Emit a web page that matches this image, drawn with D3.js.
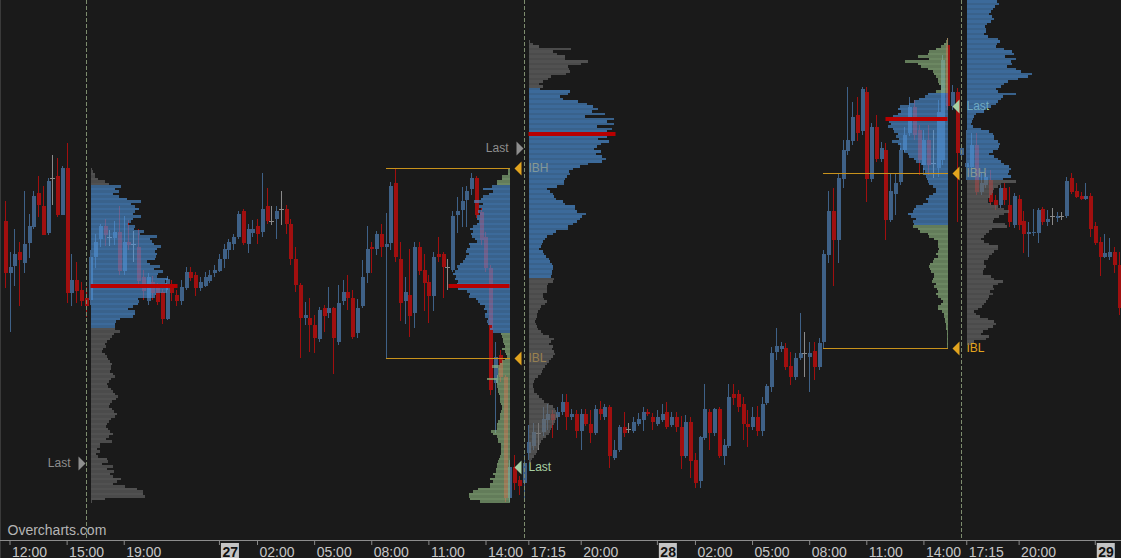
<!DOCTYPE html>
<html>
<head>
<meta charset="utf-8">
<script src="https://cdn.jsdelivr.net/npm/d3@7"></script>
<style>
  html, body { margin: 0; padding: 0; background: #1a1a1a; }
  svg { display: block; }
</style>
</head>
<body>
<svg id="chart" width="1121" height="558"></svg>
<script>

// 15 minute bars: [open, high, low, close]
const bars = [
  [4319,4339,4252,4267],[4267,4288,4208,4273],[4274,4311,4254,4286],[4288,4298,4234,4280],[4277,4349,4267,4296],
  [4297,4326,4282,4314],[4313,4349,4311,4344],[4347,4364,4323,4335],[4334,4354,4305,4305],[4307,4362,4305,4359],
  [4362,4385,4335,4362],[4364,4382,4323,4325],[4325,4374,4325,4372],[4372,4397,4237,4247],[4247,4286,4234,4260],
  [4260,4278,4237,4249],[4250,4258,4234,4239],[4242,4253,4223,4234],
  // day 26 17:15 session
  [4240,4290,4235,4283],[4283,4306,4272,4298],
  [4301,4316,4293,4314],[4314,4321,4294,4305],[4303,4310,4294,4303],[4302,4319,4295,4308],[4308,4334,4265,4269],
  [4269,4324,4265,4298],[4298,4320,4290,4295],[4296,4309,4278,4296],[4293,4311,4253,4259],[4263,4270,4240,4249],
  [4239,4267,4235,4263],[4258,4264,4240,4247],[4252,4257,4235,4238],[4248,4251,4216,4221],[4221,4264,4220,4261],
  [4255,4260,4239,4247],[4245,4250,4234,4239],[4239,4260,4235,4253],[4252,4273,4250,4268],[4268,4273,4259,4262],
  [4265,4268,4244,4252],[4252,4263,4249,4258],[4254,4268,4253,4263],[4259,4270,4257,4265],[4267,4275,4263,4270],
  [4269,4286,4268,4281],[4281,4296,4272,4291],[4290,4301,4281,4298],[4296,4306,4290,4303],[4303,4329,4301,4326],
  [4329,4331,4295,4297],[4296,4316,4287,4311],[4307,4320,4303,4311],[4314,4321,4296,4306],[4308,4367,4303,4331],
  [4334,4352,4316,4319],[4319,4334,4315,4319],[4321,4334,4301,4329],[4331,4349,4315,4331],[4331,4335,4306,4316],
  [4316,4321,4275,4281],[4281,4293,4248,4255],[4255,4257,4182,4222],[4222,4238,4215,4225],[4222,4242,4188,4215],
  [4215,4225,4187,4202],[4201,4233,4198,4230],[4232,4235,4208,4224],[4227,4253,4222,4232],[4232,4233,4166,4202],
  [4198,4255,4195,4237],[4239,4260,4235,4248],[4248,4265,4230,4242],[4242,4250,4201,4203],[4207,4241,4202,4232],
  [4234,4280,4232,4263],[4267,4314,4257,4291],[4293,4298,4267,4291],[4291,4309,4285,4306],[4306,4316,4283,4293],
  [4293,4327,4182,4296],[4297,4358,4290,4354],[4357,4372,4278,4283],[4281,4298,4219,4237],[4239,4263,4216,4248],
  [4245,4291,4203,4224],[4227,4298,4212,4293],[4293,4298,4265,4269],[4270,4286,4229,4257],[4258,4265,4217,4244],
  [4244,4288,4229,4283],[4286,4303,4278,4283],[4286,4288,4242,4273],[4273,4281,4250,4273],[4270,4329,4268,4324],
  [4325,4343,4307,4329],[4330,4353,4313,4339],[4340,4354,4313,4349],[4351,4367,4345,4362],[4362,4364,4322,4325],
  [4328,4332,4295,4300],[4303,4308,4268,4272],[4272,4275,4145,4150],[4157,4198,4107,4183],[4185,4190,4158,4163],
  [4163,4165,4038,4042],[4042,4080,4038,4073],[4073,4085,4050,4057],[4060,4064,4045,4054],[4057,4085,4038,4077],
  // day 27 17:15 session
  [4087,4115,4080,4098],[4094,4117,4090,4108],[4107,4117,4090,4107],[4108,4133,4104,4121],[4120,4136,4110,4126],
  [4126,4130,4102,4120],[4123,4133,4110,4128],[4128,4146,4125,4138],[4138,4146,4110,4123],[4123,4131,4120,4126],
  [4126,4130,4102,4109],[4109,4131,4090,4126],[4126,4131,4114,4116],[4116,4130,4097,4107],[4107,4135,4105,4131],
  [4131,4139,4120,4126],[4123,4136,4120,4133],[4133,4135,4072,4084],[4082,4100,4080,4090],[4090,4115,4088,4113],
  [4113,4128,4103,4107],[4111,4117,4107,4111],[4109,4123,4107,4118],[4116,4127,4114,4121],[4120,4133,4109,4128],
  [4128,4131,4124,4126],[4123,4127,4110,4118],[4116,4130,4114,4123],[4120,4136,4118,4126],[4128,4138,4111,4113],
  [4115,4128,4113,4123],[4123,4128,4108,4113],[4113,4124,4071,4084],[4084,4125,4082,4118],[4118,4123,4062,4079],
  [4080,4087,4052,4057],[4059,4104,4052,4103],[4102,4156,4100,4131],[4128,4131,4090,4107],[4107,4132,4104,4131],
  [4131,4133,4082,4084],[4084,4101,4075,4095],[4094,4156,4092,4143],[4146,4156,4135,4142],[4146,4150,4128,4133],
  [4136,4143,4100,4116],[4116,4130,4093,4113],[4113,4133,4110,4123],[4123,4134,4104,4109],[4109,4143,4104,4136],
  [4137,4156,4135,4154],[4153,4193,4148,4187],[4188,4212,4180,4194],[4191,4198,4188,4194],[4192,4197,4170,4173],
  [4174,4188,4155,4163],[4163,4187,4160,4182],[4182,4227,4180,4187],[4187,4208,4163,4187],[4183,4198,4148,4187],
  [4189,4198,4160,4173],[4173,4202,4170,4197],[4198,4290,4192,4286],[4285,4349,4277,4329],[4329,4352,4254,4300],
  [4300,4367,4277,4362],[4361,4400,4352,4390],[4389,4453,4385,4400],[4399,4438,4395,4423],[4425,4443,4399,4407],
  [4409,4453,4405,4451],[4448,4453,4338,4361],[4361,4417,4358,4413],[4413,4425,4378,4381],[4381,4398,4378,4392],
  [4390,4397,4300,4320],[4320,4367,4318,4349],[4346,4367,4325,4357],[4358,4397,4355,4390],[4390,4413,4388,4405],
  [4407,4443,4404,4433],[4433,4440,4400,4405],[4410,4415,4365,4380],[4375,4410,4365,4400],[4400,4415,4365,4375],
  [4377,4410,4362,4377],[4372,4440,4363,4428],[4380,4485,4375,4480],[4495,4502,4430,4434],[4434,4455,4430,4448],
  [4448,4452,4318,4387],[4385,4395,4380,4392],
  // day 28 17:15 session
  [4373,4410,4360,4377],[4373,4407,4370,4395],[4395,4407,4345,4348],
  [4348,4367,4345,4357],[4355,4367,4352,4363],[4360,4370,4335,4338],[4340,4345,4330,4335],[4335,4355,4332,4352],
  [4352,4357,4335,4340],[4335,4353,4313,4318],[4315,4347,4312,4344],[4341,4345,4310,4315],[4319,4329,4287,4306],
  [4306,4318,4283,4308],[4307,4331,4304,4308],[4307,4332,4297,4330],[4331,4333,4315,4318],[4318,4330,4314,4321],
  [4324,4332,4315,4324],[4322,4328,4318,4324],[4324,4328,4320,4324],[4324,4363,4322,4359],[4362,4367,4346,4348],
  [4349,4357,4342,4343],[4344,4348,4340,4341],[4341,4357,4340,4344],[4344,4347,4303,4311],[4314,4318,4295,4297],
  [4298,4303,4264,4283],[4283,4306,4282,4287],[4283,4302,4280,4288],[4288,4293,4267,4275],[4275,4288,4225,4232]
];

// session boundaries (bar indexes)
const sessionFirst = [0, 18, 110, 202];
const sessionLast = [17, 109, 201, 234];
const ibStart = [null, 80, 172, null];   // initial balance = 4 bars from 08:45
const rthEnd = [null, 106, 198, null];   // 15:15 bar
const ibBars = 4;

// time axis
const tickBars = [1, 13, 25, 45, 53, 65, 77, 89, 101, 110, 121, 137, 145, 157, 169, 181, 193, 202, 213, 229];
const tickLabels = ["12:00","15:00","19:00","27","02:00","05:00","08:00","11:00","14:00","17:15",
                    "20:00","28","02:00","05:00","08:00","11:00","14:00","17:15","20:00","29"];

// volume profiles, one row every 2.5 points, listed from the top price down
const rowStep = 2.5;

const volS1Session = [
  1,2,4,4,7,14,18,
  30,24,28,22,28,36,50,40,44,48,44,42,50,42,40,37,44,43,53,49,66,59,61,63,70,66,64,66,65,64,56,59,69,63,
  72,67,66,77,74,76,86,77,76,65,64,47,48,47,42,37,44,44,42,29,25,24,24,
  24,29,23,21,19,16,14,15,12,11,14,16,17,19,21,20,20,
  19,22,24,20,18,16,17,20,22,24,27,25,21,19,18,21,23,26,24,20,18,16,15,17,19,22,18,15,
  21,9,9,6,9,5,7,16,17,11,22,16,23,19,22,30,26,22,34,46,52,52,54,14,1
];
const volS1Rth = [
  2,2,2,8,8,13,13,
  18,27,17,21,27,29,36,27,31,28,32,30,33,33,31,33,37,40,37,39,38,35,33,41,40,43,44,41,44,45,
  47,50,53,52,55,57,54,55,52,53,60,52,43,40,41,34,32,30,25,26,23,25,25,22,23,22,18,20,17,
  9,8,7,7,6,5,8,5,4,3,5,8,10,18,12,12,12,13,23,14,13,13,12,12,11,10,10,10,9,8,
  8,9,10,10,10,12,13,13,13,19,17,13,12,12,9,9,9,9,9,10,11,12,13,13,14,14,17,15,20,17,
  20,20,32,37,41,41,40,30
];
const volS2Session = [
  1,4,10,42,24,28,36,36,59,52,39,40,41,37,22,19,14,10,14,
  11,41,39,31,34,49,58,64,69,63,76,56,85,78,85,68,83,78,86,78,69,80,72,68,65,72,67,73,77,73,
  59,51,44,40,41,38,36,35,35,28,18,21,24,25,27,34,36,46,46,48,57,53,51,48,44,39,39,27,24,18,
  16,14,13,12,10,14,15,17,20,21,23,24,24,23,23,22,
  25,24,19,18,18,18,14,14,15,18,16,12,11,9,8,8,7,6,7,8,9,12,14,20,25,22,20,24,23,25,
  26,24,22,20,18,16,14,13,12,9,6,5,4,4,5,5,8,10,13,15,
  20,24,26,27,28,29,27,26,25,23,22,21,20,17,14,12,11,10,9,8,7,5,3,2
];
const volS2Rth = [
  1,2,4,7,12,19,20,30,19,43,30,27,20,15,14,12,10,10,9,7,7,12,
  20,23,29,34,39,48,50,47,50,55,61,59,57,60,55,54,50,52,49,56,50,47,48,44,40,39,34,32,27,24,
  25,23,24,22,21,20,19,15,12,12,15,19,22,20,25,32,34,35,40,37,32,35,34,
  35,30,28,20,19,14,10,10,10,9,10,12,10,14,15,18,19,18,17,14,14,15,16,12,14,11,10,12,10,7,
  5,7,10,10,6,4,4,3,3,2,2,2,1,1,1,1,1,1,1
];
const volS3Session = [
  30,32,28,26,24,22,25,27,24,20,18,19,
  19,17,21,31,33,30,29,37,45,47,38,49,44,45,40,49,54,65,61,51,41,37,34,29,31,49,36,34,31,29,
  24,19,17,9,7,6,5,4,6,14,22,26,27,27,31,33,32,31,26,22,27,31,34,37,42,44,42,41,44,36,
  49,34,31,27,26,25,23,21,21,24,31,37,42,37,32,27,26,38,40,25,22,19,17,14,17,22,31,31,27,25,
  22,21,17,17,19,17,16,16,24,27,36,31,26,27,23,26,22,21,19,17,15,11,7,9,13,21,27,29,26,21,
  16,14,22,19,7,4
];

// top price, value area high / low of each profile
const profileTop = [4372.5, 4372.5, 4500, 4502.5, 4540];
const profileVAH = [4355, 4355, 4452.5, 4447.5, 4545];
const profileVAL = [4212.5, 4207.5, 4262.5, 4315, 4360];


class ProfileChart {

  constructor(_config) {
    this.config = {
      parentElement: _config.parentElement,
      width: 1121,
      height: 558,
      plotBottom: 540
    }
    this.initVis();
  }

  initVis() {
    let vis = this;

    vis.svg = d3.select(vis.config.parentElement);

    vis.xScale = d3.scaleLinear()
      .domain([0, bars.length - 1])
      .range([4.74, 4.74 + (bars.length - 1) * 4.76]);

    vis.yScale = d3.scaleLinear()
      .domain([4000, 4540])
      .range([vis.config.plotBottom, 0]);

    // profile widths, one point of volume per pixel
    vis.volScale = d3.scaleLinear().domain([0, 100]).range([0, 100]);

    vis.colors = {
      up: "#3f6187", down: "#a10f0f", flat: "#8a8a8a",
      va: "#4e92d9", outSession: "#6d6d6d", outRth: "#95be86",
      poc: "#b80000", ib: "#c8921c", ibMark: "#e2a41e",
      last: "#a6d0a3", lastPrev: "#8e8e8e"
    };

    vis.profiles = [
      { vol: volS1Session, kind: "session", session: 1 },
      { vol: volS1Rth, kind: "rth", session: 1 },
      { vol: volS2Session, kind: "session", session: 2 },
      { vol: volS2Rth, kind: "rth", session: 2 },
      { vol: volS3Session, kind: "session", session: 3 }
    ].map((p, k) => Object.assign(p, { top: profileTop[k], vah: profileVAH[k], val: profileVAL[k] }));

    vis.svg.append("rect")
      .attr("width", vis.config.width)
      .attr("height", vis.config.height)
      .attr("fill", "#1a1a1a");

    vis.candleG = vis.svg.append("g");
    vis.textG = vis.svg.append("g");
    vis.profileG = vis.svg.append("g").attr("shape-rendering", "crispEdges");
    vis.lineG = vis.svg.append("g");
    vis.axisG = vis.svg.append("g").attr("transform", `translate(0,${vis.config.plotBottom})`);

    vis.renderVis();
  }

  renderVis() {
    let vis = this;
    const x = vis.xScale, y = vis.yScale;

    //candles
    const candles = bars.map((b, i) => ({ i: i, o: b[0], h: b[1], l: b[2], c: b[3] }));
    const color = d => d.c > d.o ? vis.colors.up : (d.c < d.o ? vis.colors.down : vis.colors.flat);

    vis.candleG.selectAll(".wick")
      .data(candles)
      .join("line")
        .attr("class", "wick")
        .attr("x1", d => Math.round(x(d.i)) + 0.5)
        .attr("x2", d => Math.round(x(d.i)) + 0.5)
        .attr("y1", d => y(d.h))
        .attr("y2", d => y(d.l))
        .attr("stroke", color)
        .attr("stroke-width", 1);

    vis.candleG.selectAll(".body")
      .data(candles)
      .join("rect")
        .attr("class", "body")
        .attr("shape-rendering", "crispEdges")
        .attr("x", d => Math.round(x(d.i)) - (d.o === d.c ? 2 : 1.5))
        .attr("width", d => d.o === d.c ? 5 : 4)
        .attr("y", d => y(Math.max(d.o, d.c)))
        .attr("height", d => Math.max(1, Math.abs(y(d.o) - y(d.c))))
        .attr("fill", color);

    // where each profile sits
    vis.profiles.forEach(p => {
      if (p.kind === "session") {
        p.base = Math.round(x(sessionFirst[p.session])) + 0.5;
      } else {
        p.edge = Math.round(x(rthEnd[p.session])) + 0.5;
      }
      p.rows = p.vol.map((v, i) => ({
        v: v, i: i,
        hi: p.top - i * rowStep,
        lo: p.top - (i + 1) * rowStep
      }));
    });

    //labels sit under the profiles, so the profiles tint them
    const marks = [];
    [1, 2].forEach(s => {
      const ib = bars.slice(ibStart[s], ibStart[s] + ibBars);
      const edge = Math.round(x(rthEnd[s])) + 0.5;
      const base = Math.round(x(sessionFirst[s])) + 0.5;
      marks.push({ kind: "ibh", price: d3.max(ib, b => b[1]), edge: edge, from: x(ibStart[s]) });
      marks.push({ kind: "ibl", price: d3.min(ib, b => b[2]), edge: edge, from: x(ibStart[s]) });
      marks.push({ kind: "last", price: bars[rthEnd[s]][3], edge: edge });
      marks.push({ kind: "prev", price: bars[sessionLast[s]][3], edge: base });
    });

    const labelText = { ibh: "IBH", ibl: "IBL", last: "Last", prev: "Last" };
    const labelFill = { ibh: "#e2a41e", ibl: "#e2a41e", last: vis.colors.last, prev: vis.colors.lastPrev };

    vis.textG.selectAll("text")
      .data(marks)
      .join("text")
        .attr("x", d => d.kind === "prev" ? d.edge - 20 : d.edge + 19)
        .attr("y", d => Math.round(y(d.price)))
        .attr("dy", "0.36em")
        .attr("text-anchor", d => d.kind === "prev" ? "end" : "start")
        .attr("font-family", "'Liberation Sans', Arial, sans-serif")
        .attr("font-size", 12)
        .attr("fill", d => labelFill[d.kind])
        .text(d => labelText[d.kind]);

    //profiles
    vis.profiles.forEach(p => {
      const g = vis.profileG.append("g");
      const inVA = r => r.lo >= p.val && r.hi <= p.vah;
      g.selectAll("rect")
        .data(p.rows.filter(r => r.v > 0))
        .join("rect")
          .attr("x", r => p.kind === "session" ? p.base : p.edge - vis.volScale(r.v))
          .attr("width", r => vis.volScale(r.v))
          .attr("y", r => y(r.hi))
          .attr("height", r => y(r.lo) - y(r.hi))
          .attr("fill", r => inVA(r) ? vis.colors.va : (p.kind === "session" ? vis.colors.outSession : vis.colors.outRth))
          .attr("fill-opacity", r => r.i % 2 ? 0.6 : 0.67);

      // point of control only on finished sessions
      if (p.session < 3) {
        const pocRow = p.rows[d3.maxIndex(p.rows, r => r.v)];
        const w = vis.volScale(pocRow.v) + 1;
        vis.lineG.append("rect")
          .attr("x", p.kind === "session" ? p.base : p.edge - w)
          .attr("width", w)
          .attr("y", Math.round(y((pocRow.hi + pocRow.lo) / 2)) - 2)
          .attr("height", 4)
          .attr("fill", vis.colors.poc);
      }
    });

    //initial balance lines
    vis.lineG.selectAll(".ib")
      .data(marks.filter(d => d.kind === "ibh" || d.kind === "ibl"))
      .join("line")
        .attr("class", "ib")
        .attr("x1", d => Math.round(d.from))
        .attr("x2", d => d.edge + 0.5)
        .attr("y1", d => Math.round(y(d.price)) + 0.5)
        .attr("y2", d => Math.round(y(d.price)) + 0.5)
        .attr("stroke", vis.colors.ib)
        .attr("stroke-width", 1);

    // pointers next to the labels
    vis.lineG.selectAll(".pointer")
      .data(marks)
      .join("path")
        .attr("class", "pointer")
        .attr("d", d => {
          const yy = Math.round(y(d.price)) + 0.5;
          if (d.kind === "prev") {
            const tip = d.edge - 5;
            return `M${tip},${yy}L${tip - 7},${yy - 7}L${tip - 7},${yy + 7}Z`;
          }
          const tip = d.edge + 5;
          return `M${tip},${yy}L${tip + 7},${yy - 7}L${tip + 7},${yy + 7}Z`;
        })
        .attr("fill", d => d.kind === "last" ? vis.colors.last : (d.kind === "prev" ? vis.colors.lastPrev : vis.colors.ibMark));

    //session dividers
    vis.lineG.selectAll(".divider")
      .data(sessionLast.slice(0, 3))
      .join("line")
        .attr("class", "divider")
        .attr("x1", d => Math.round(x(d)) + 0.5)
        .attr("x2", d => Math.round(x(d)) + 0.5)
        .attr("y1", 0)
        .attr("y2", vis.config.plotBottom)
        .attr("stroke", "#7d8c6e")
        .attr("stroke-dasharray", "4,2");

    // left border
    vis.lineG.append("line")
      .attr("x1", 0.5).attr("x2", 0.5)
      .attr("y1", 0).attr("y2", vis.config.height)
      .attr("stroke", "#3a3a3a");

    vis.svg.append("text")
      .attr("x", 7.5)
      .attr("y", 535)
      .attr("font-family", "'Liberation Sans', Arial, sans-serif")
      .attr("font-size", 14)
      .attr("fill", "#b5b5b5")
      .text("Overcharts.com");

    //time axis
    const axis = d3.axisBottom(x)
      .tickValues(tickBars)
      .tickFormat((d, i) => tickLabels[i])
      .tickSizeInner(5)
      .tickSizeOuter(0);

    vis.axisG.call(axis);
    vis.axisG.select(".domain").remove();
    vis.axisG.selectAll(".tick line").attr("stroke", "#8a8a8a");
    vis.axisG.selectAll(".tick text")
      .attr("x", 2)
      .attr("y", 16.5)
      .attr("dy", 0)
      .attr("text-anchor", "start")
      .attr("font-family", "'Liberation Sans', Arial, sans-serif")
      .attr("font-size", 14)
      .attr("fill", "#c6c6c6");

    vis.axisG.selectAll(".tick")
      .filter((d, i) => tickLabels[i].length === 2)
      .each(function() {
        const t = d3.select(this);
        t.insert("rect", "text")
          .attr("x", 1.5)
          .attr("y", 3)
          .attr("width", 18)
          .attr("height", 16)
          .attr("fill", "#c4c4c4");
        t.select("text")
          .attr("x", 3)
          .attr("font-weight", "bold")
          .attr("fill", "#111");
      });

    vis.axisG.append("line")
      .attr("x1", 0).attr("x2", vis.config.width)
      .attr("y1", 0.5).attr("y2", 0.5)
      .attr("stroke", "#8d8d8d");
  }
}

new ProfileChart({ parentElement: "#chart" });
</script>
</body>
</html>
